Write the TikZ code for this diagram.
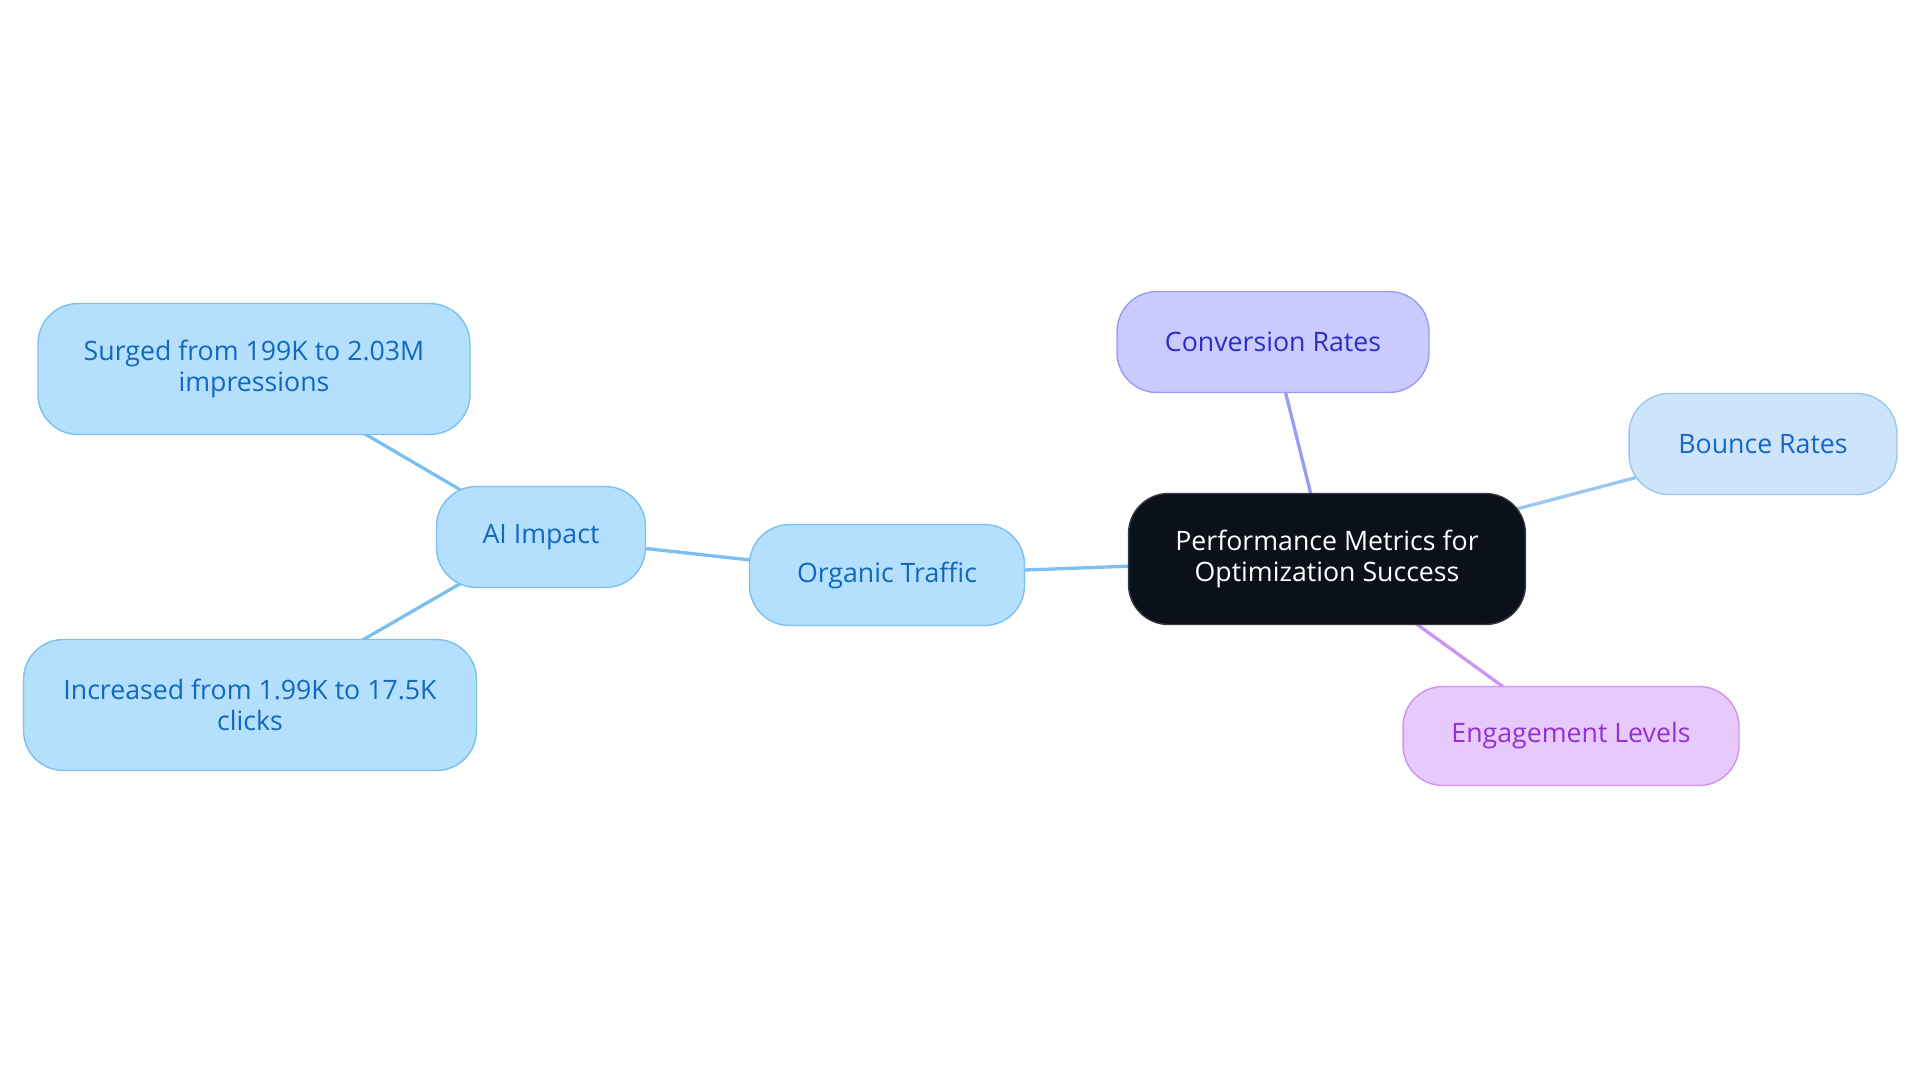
\documentclass[tikz,border=0pt]{standalone}
\usepackage{fontspec}
\setmainfont{Open Sans}
\usepackage{xcolor}
\usetikzlibrary{backgrounds}

\definecolor{skyfill}{HTML}{B4DFFD}
\definecolor{skyline}{HTML}{7DC0EF}
\definecolor{skytext}{HTML}{1268BE}
\definecolor{rootfill}{HTML}{0B111B}
\definecolor{rootline}{HTML}{34373C}
\definecolor{convfill}{HTML}{CACBFC}
\definecolor{convline}{HTML}{9A9CF3}
\definecolor{convtext}{HTML}{2B2DC6}
\definecolor{bncfill}{HTML}{CEE4FB}
\definecolor{bncline}{HTML}{9BC7F2}
\definecolor{bnctext}{HTML}{1466CC}
\definecolor{engfill}{HTML}{E8C9FC}
\definecolor{engline}{HTML}{CC95F0}
\definecolor{engtext}{HTML}{9331D4}

\begin{document}
\begin{tikzpicture}[
  x=0.02cm, y=-0.02cm,
  pill/.style={draw, rounded corners=0.8cm, align=center, minimum height=2.02cm, inner sep=2pt, line width=0.8pt, font=\fontsize{15.2}{17.5}\selectfont},
  sky/.style={pill, fill=skyfill, draw=skyline, text=skytext},
  link/.style={line width=1.9pt},
]
  \useasboundingbox (0,0) rectangle (1920,1083);

  \node[pill, fill=rootfill, draw=rootline, text=white, minimum width=7.94cm, minimum height=2.62cm] (root) at (1327,559) {Performance Metrics for\\Optimization Success};

  \node[sky, minimum width=5.5cm] (organic) at (887,575) {Organic Traffic};
  \node[sky, minimum width=4.18cm] (aiimpact) at (541,537) {AI Impact};
  \node[sky, minimum width=8.64cm, minimum height=2.62cm] (surged) at (254,369) {Surged from 199K to 2.03M\\impressions};
  \node[sky, minimum width=9.06cm, minimum height=2.62cm] (increased) at (250,705) {Increased from 1.99K to 17.5K\\clicks};

  \node[pill, fill=convfill, draw=convline, text=convtext, minimum width=6.24cm] (conversion) at (1273,342) {Conversion Rates};
  \node[pill, fill=bncfill, draw=bncline, text=bnctext, minimum width=5.36cm] (bounce) at (1763,444) {Bounce Rates};
  \node[pill, fill=engfill, draw=engline, text=engtext, minimum width=6.72cm, minimum height=1.98cm] (engagement) at (1571,736) {Engagement Levels};

  \begin{scope}[on background layer]
    \draw[link, skyline] (root.center) -- (organic.center);
    \draw[link, skyline] (organic.center) -- (aiimpact.center);
    \draw[link, skyline] (aiimpact.center) -- (surged.center);
    \draw[link, skyline] (aiimpact.center) -- (increased.center);
    \draw[link, convline] (root.center) -- (conversion.center);
    \draw[link, bncline] (root.center) -- (bounce.center);
    \draw[link, engline] (root.center) -- (engagement.center);
  \end{scope}
\end{tikzpicture}
\end{document}
